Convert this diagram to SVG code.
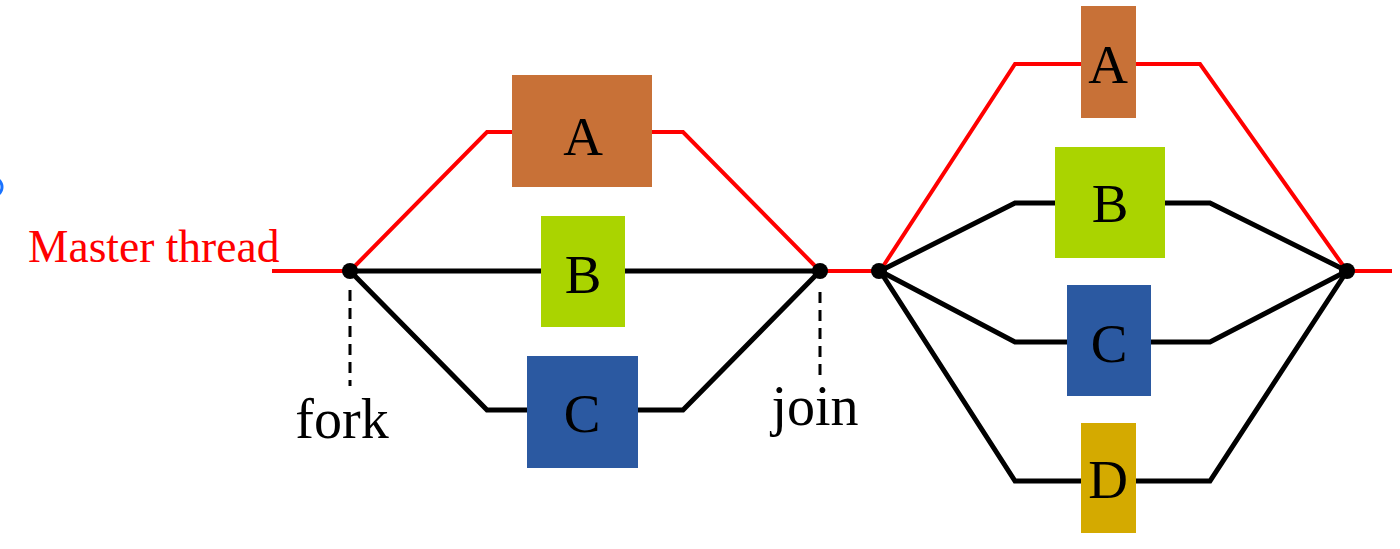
<svg xmlns="http://www.w3.org/2000/svg" width="1400" height="549" viewBox="0 0 1400 549">
<style>
.red{fill:none;stroke:#ff0000;stroke-width:4;stroke-linejoin:miter}
.blk{fill:none;stroke:#000;stroke-width:5;stroke-linejoin:miter}
.dash{fill:none;stroke:#000;stroke-width:3;stroke-dasharray:11 7}
.dot{fill:#000}
.lbl{font-family:"Liberation Serif","Times New Roman",serif;fill:#000;text-anchor:middle}
.box{font-size:55px}
.a{fill:#c87137}.b{fill:#aad400}.c{fill:#2b59a1}.d{fill:#d4aa00}
</style>
<rect width="1400" height="549" fill="#fff"/>
<ellipse cx="-9" cy="187" rx="11" ry="10" fill="none" stroke="#1a73ff" stroke-width="3"/>
<g id="connectors">
<path class="red" d="M272 271H350M820 271H880M1347 271H1392"/>
<path class="red" d="M350 271L487 132H683L820 271"/>
<path class="blk" d="M350 271H820"/>
<path class="blk" d="M350 271L487 410H683L820 271"/>
<path class="red" d="M880 271L1015 64H1200L1347 271"/>
<path class="blk" d="M880 271L1015 203H1210L1347 271"/>
<path class="blk" d="M880 271L1015 342H1210L1347 271"/>
<path class="blk" d="M880 271L1015 481H1210L1347 271"/>
<path class="dash" d="M350 290V386M820 292V382"/>
</g>
<g id="master-label"><text x="28" y="262" font-family="Liberation Serif,'Times New Roman',serif" font-size="45.5" fill="#ff0000">Master thread</text></g>
<g id="fork"><circle class="dot" cx="350" cy="271" r="8"/><text class="lbl" x="342" y="438" font-size="56">fork</text></g>
<g id="join"><circle class="dot" cx="820" cy="271" r="8"/><text class="lbl" x="815" y="425" font-size="56">join</text></g>
<g id="fork2"><circle class="dot" cx="879" cy="271" r="8"/></g>
<g id="join2"><circle class="dot" cx="1347" cy="271" r="8"/></g>
<g id="A1"><rect class="a" x="512" y="75" width="140" height="112"/><text class="lbl box" x="583" y="155">A</text></g>
<g id="B1"><rect class="b" x="541" y="216" width="84" height="111"/><text class="lbl box" x="583" y="293">B</text></g>
<g id="C1"><rect class="c" x="527" y="356" width="111" height="112"/><text class="lbl box" x="582" y="432">C</text></g>
<g id="A2"><rect class="a" x="1081" y="6" width="55" height="112"/><text class="lbl box" x="1108" y="83">A</text></g>
<g id="B2"><rect class="b" x="1055" y="147" width="110" height="111"/><text class="lbl box" x="1110" y="222">B</text></g>
<g id="C2"><rect class="c" x="1067" y="285" width="84" height="111"/><text class="lbl box" x="1109" y="362">C</text></g>
<g id="D2"><rect class="d" x="1081" y="423" width="55" height="110"/><text class="lbl box" x="1108" y="498">D</text></g>
</svg>
